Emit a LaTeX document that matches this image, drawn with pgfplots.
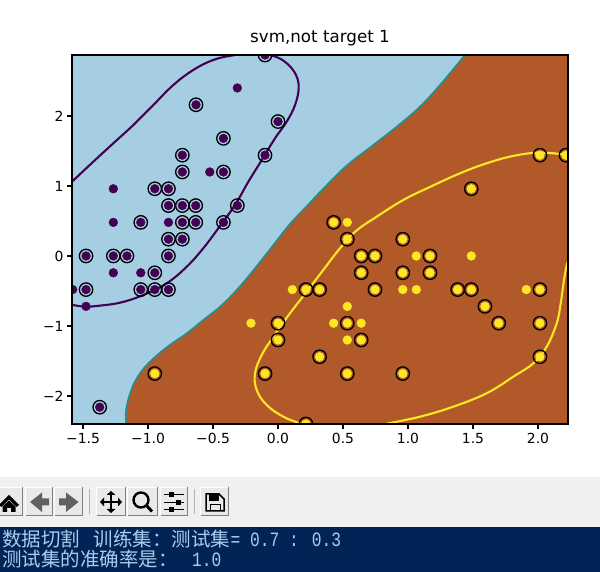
\documentclass[border=0pt]{standalone}
\usepackage{fontspec}
\usepackage{graphicx}
\usepackage{pgfplots}
\usepackage{pgfplotstable}
\pgfplotsset{compat=1.18}
\setmainfont{DejaVu Sans}
\newfontfamily\cjk{Noto Sans CJK SC}
\newfontfamily\lat{Liberation Mono}
\definecolor{regblue}{HTML}{A6CEE3}
\definecolor{regbrown}{HTML}{B15928}
\definecolor{vpurple}{HTML}{440154}
\definecolor{vyellow}{HTML}{FDE725}
\definecolor{vteal}{HTML}{21918C}
\definecolor{tbgray}{HTML}{F0F0F0}
\definecolor{consolebg}{HTML}{012456}
\definecolor{consoletx}{HTML}{A9CBEC}
\pgfplotstableread{
x y
-0.525 1.2
-0.313 2.4
-1.267 0.96
-1.267 0.48
-0.843 0.48
-1.267 -0.24
-1.056 -0.24
-1.58 -0.48
-1.477 -0.72
}\purplefree
\pgfplotstableread{
x y
-0.1 2.87
-0.631 2.16
0.0 1.92
-0.42 1.68
-0.1 1.44
-0.736 1.44
-0.736 1.2
-0.42 1.2
-0.948 0.96
-0.843 0.96
-0.843 0.72
-0.736 0.72
-0.633 0.72
-0.313 0.72
-1.056 0.48
-0.736 0.48
-0.633 0.48
-0.42 0.48
-0.843 0.24
-0.736 0.24
-1.477 0
-1.267 0
-1.162 0
-0.843 0
-0.948 -0.24
-1.477 -0.48
-1.056 -0.48
-0.948 -0.48
-0.843 -0.48
-1.372 -2.16
}\purplesv
\pgfplotstableread{
x y
0.11 -0.48
-0.208 -0.96
0.533 0.48
1.064 0
1.487 0
0.96 -0.48
1.064 -0.48
1.91 -0.48
0.533 -0.72
0.428 -0.96
0.64 -0.96
0.533 -1.2
}\yellowfree
\pgfplotstableread{
x y
-0.948 -1.68
0.215 -0.48
0.32 -0.48
0 -0.96
0 -1.2
0.32 -1.44
-0.1 -1.68
0.215 -2.4
2.015 1.44
2.215 1.44
1.487 0.96
0.428 0.48
0.533 0.24
0.96 0.24
0.64 0
0.746 0
1.169 0
0.64 -0.24
0.96 -0.24
1.169 -0.24
0.746 -0.48
1.382 -0.48
1.487 -0.48
2.015 -0.48
1.592 -0.72
0.533 -0.96
1.698 -0.96
2.015 -0.96
0.64 -1.2
2.015 -1.44
0.533 -1.68
0.96 -1.68
}\yellowsv
\pgfplotstableread{
x y
-1.169 -2.5
-1.169 -2.4
-1.169 -2.2
-1.138 -1.961
-1.087 -1.747
-0.998 -1.533
-0.856 -1.304
-0.702 -1.104
-0.575 -0.914
-0.446 -0.724
-0.318 -0.486
-0.177 -0.176
-0.036 0.157
0.092 0.457
0.208 0.686
0.346 0.957
0.528 1.29
0.733 1.586
0.913 1.847
1.092 2.133
1.246 2.443
1.375 2.729
1.438 2.871
1.554 3.114
}\boundary
\pgfplotstableread{
x y
-1.579 1.071
-1.421 1.347
-1.267 1.61
-1.113 1.871
-0.959 2.157
-0.805 2.443
-0.652 2.657
-0.498 2.8
-0.344 2.867
-0.192 2.9
-0.036 2.857
0.067 2.753
0.138 2.586
0.159 2.396
0.131 2.157
0.067 1.919
-0.023 1.681
-0.125 1.371
-0.228 1.061
-0.331 0.729
-0.459 0.396
-0.575 0.11
-0.702 -0.153
-0.856 -0.39
-1.036 -0.557
-1.215 -0.667
-1.395 -0.714
-1.485 -0.724
-1.579 -0.7
}\purpleline
\pgfplotstableread{
x y
2.233 1.443
2.015 1.476
1.81 1.429
1.605 1.324
1.4 1.181
1.169 0.986
0.964 0.8
0.759 0.561
0.6 0.357
0.477 0.11
0.348 -0.2
0.221 -0.51
0.092 -0.819
-0.036 -1.153
-0.125 -1.414
-0.177 -1.676
-0.164 -1.914
-0.087 -2.129
0.041 -2.296
0.169 -2.39
0.215 -2.414
}\yellowlineA
\pgfplotstableread{
x y
2.225 -0.096
2.2 -0.343
2.175 -0.676
2.144 -0.961
2.067 -1.296
1.964 -1.533
1.81 -1.724
1.605 -1.961
1.348 -2.153
1.092 -2.296
0.836 -2.396
}\yellowlineB
\newcommand{\tbbutton}[2]{%
  \fill[tbgray!97!black] (#1,487) rectangle (#2,516);
  \draw[white,line width=1pt] (#1+.5,516) -- (#1+.5,487.5) -- (#2-.5,487.5);
  \draw[black!50,line width=1pt] (#1+.5,516) -- (#2-.5,516) -- (#2-.5,487.5);
}
\begin{document}
\begin{tikzpicture}
\useasboundingbox (0,0) rectangle (600pt,572pt);
\begin{axis}[
  at={(72pt,148pt)}, anchor=south west,
  scale only axis, width=496pt, height=369pt,
  xmin=-1.585, xmax=2.231, ymin=-2.4, ymax=2.871,
  axis background/.style={fill=regblue},
  axis on top, axis line style={line width=1.1pt},
  tick align=outside, tick pos=left,
  major tick length=4.9pt, tick style={line width=1.1pt,black},
  xtick={-1.5,-1,-0.5,0,0.5,1,1.5,2},
  xticklabels={−1.5,−1.0,−0.5,0.0,0.5,1.0,1.5,2.0},
  ytick={-2,-1,0,1,2},
  yticklabels={−2,−1,0,1,2},
  tick label style={font=\fontsize{13.9}{16}\selectfont},
  xticklabel style={yshift=-1pt},
  title={svm,not target 1},
  title style={font=\fontsize{16.7}{20}\selectfont, yshift=-1pt},
  clip marker paths=true,
]
\addplot[fill=regbrown,draw=none,smooth,tension=0.65] table[x=x,y=y] {\boundary} -- (axis cs:4,4) -- (axis cs:4,-4) -- cycle;
\addplot[vteal,line width=1.6pt,smooth,tension=0.65] table[x=x,y=y] {\boundary};
\addplot[vpurple,line width=2.1pt,smooth,tension=0.65] table[x=x,y=y] {\purpleline};
\addplot[vyellow,line width=2.1pt,smooth,tension=0.65] table[x=x,y=y] {\yellowlineA};
\addplot[vyellow,line width=2.1pt,smooth,tension=0.65] table[x=x,y=y] {\yellowlineB};
\addplot[only marks,mark=*,mark size=4.4pt,color=vpurple,mark options={draw=vpurple,fill=vpurple}] table[x=x,y=y] {\purplefree};
\addplot[only marks,mark=*,mark size=4.4pt,color=vpurple,mark options={draw=vpurple,fill=vpurple}] table[x=x,y=y] {\purplesv};
\addplot[only marks,mark=*,mark size=4.4pt,color=vyellow,mark options={draw=vyellow,fill=vyellow}] table[x=x,y=y] {\yellowfree};
\addplot[only marks,mark=*,mark size=4.4pt,color=vyellow,mark options={draw=vyellow,fill=vyellow}] table[x=x,y=y] {\yellowsv};
\addplot[only marks,mark=o,mark size=6.7pt,color=black,mark options={draw=black,line width=1.35pt,fill=none}] table[x=x,y=y] {\purplesv};
\addplot[only marks,mark=o,mark size=6.7pt,color=black,mark options={draw=black,line width=1.35pt,fill=none}] table[x=x,y=y] {\yellowsv};
\end{axis}
\begin{scope}[shift={(0,572pt)},x=1pt,y=-1pt]
  % toolbar band
  \fill[tbgray] (0,477) rectangle (600,527);
  \fill[consolebg] (0,527) rectangle (600,572);
  \tbbutton{-6}{23}
  \tbbutton{25}{53}
  \tbbutton{54}{83}
  \tbbutton{96}{126}
  \tbbutton{127}{158}
  \tbbutton{160}{188}
  \tbbutton{200}{229}
  \draw[black!30,line width=1pt] (89.5,489) -- (89.5,514);
  \draw[black!30,line width=1pt] (194.5,489) -- (194.5,514);
  % home
  \fill[black] (9,495) -- (-1,505) -- (1.5,507) -- (9,499.5) -- (16.5,507) -- (19,505) -- cycle;
  \fill[black] (2.5,506.5) -- (9,500.5) -- (15.5,506.5) -- (15.5,512) -- (11,512) -- (11,508) -- (7,508) -- (7,512) -- (2.5,512) -- cycle;
  % back / forward
  \fill[black!62] (30,502) -- (42,492.5) -- (42,498.5) -- (49,498.5) -- (49,505.5) -- (42,505.5) -- (42,512) -- cycle;
  \fill[black!62] (78.5,502) -- (66,492.5) -- (66,498.5) -- (59,498.5) -- (59,505.5) -- (66,505.5) -- (66,512) -- cycle;
  % move
  \draw[black,line width=2.2pt] (101,502) -- (121,502) (111,492) -- (111,512);
  \fill[black] (100,502) -- (104,497.5) -- (104,506.5) -- cycle;
  \fill[black] (122,502) -- (118,497.5) -- (118,506.5) -- cycle;
  \fill[black] (111,491) -- (106.5,495) -- (115.5,495) -- cycle;
  \fill[black] (111,513) -- (106.5,509) -- (115.5,509) -- cycle;
  % zoom
  \draw[black,line width=2.4pt] (141,500) circle (7.5);
  \draw[black,line width=3pt] (146.5,505.5) -- (152,511.5);
  % sliders
  \draw[black,line width=1pt] (164,495) -- (184,495) (164,502.5) -- (184,502.5) (164,509.5) -- (184,509.5);
  \fill[black] (169,492.5) rectangle (174,497.5);
  \fill[black] (176,500) rectangle (181,505);
  \fill[black] (169,507) rectangle (174,512);
  % save
  \draw[black,line width=1.5pt] (206,494) -- (219,494) -- (224,499) -- (224,511) -- (206,511) -- cycle;
  \fill[black] (209,494) rectangle (219,501);
  \draw[black,line width=1pt] (210,511) rectangle (220,504.5);
  % console
  \node[anchor=base west,inner sep=0pt,text=consoletx,font=\fontsize{19.5}{20}\selectfont\cjk] at (2,547) {数据切割};
  \node[anchor=base west,inner sep=0pt,text=consoletx,font=\fontsize{19.5}{20}\selectfont\cjk] at (93.5,547) {训练集：测试集};
  \node[anchor=base west,inner sep=0pt,text=consoletx,font=\fontsize{16.25}{20}\selectfont\lat] at (230.5,547) {\scalebox{1}[1.25]{= 0.7 : 0.3}};
  \node[anchor=base west,inner sep=0pt,text=consoletx,font=\fontsize{19.5}{20}\selectfont\cjk] at (2,567) {测试集的准确率是：};
  \node[anchor=base west,inner sep=0pt,text=consoletx,font=\fontsize{16.25}{20}\selectfont\lat] at (192,567) {\scalebox{1}[1.25]{1.0}};
\end{scope}
\end{tikzpicture}
\end{document}
